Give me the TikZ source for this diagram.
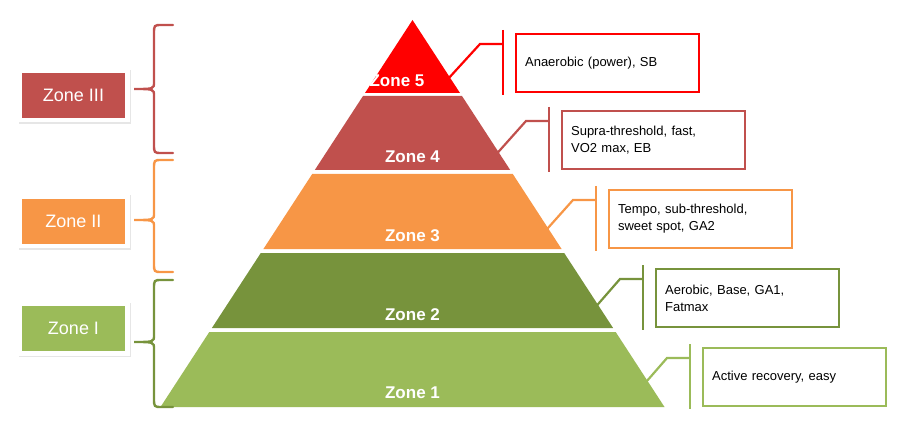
\documentclass[tikz,border=0pt]{standalone}
\usepackage{fontspec}
\setmainfont{Liberation Sans}
\usetikzlibrary{shadows}
\definecolor{zfive}{HTML}{FF0000}
\definecolor{zfour}{HTML}{C0504D}
\definecolor{zthree}{HTML}{F79646}
\definecolor{ztwo}{HTML}{77933C}
\definecolor{zone}{HTML}{9BBB59}
\tikzset{
 lay/.style={fill=#1,draw=none},
 zlab/.style={text=white,font=\fontsize{17}{19}\selectfont\bfseries,inner sep=0pt},
 call/.style={draw=#1,line width=2.2pt,fill=white,align=left,font=\fontsize{13}{17}\selectfont,text=black,minimum height=58pt,minimum width=183pt,text width=165pt,inner sep=0pt},
 cline/.style={draw=#1,line width=2.2pt},
 bigz/.style={fill=#1,text=white,minimum width=103pt,minimum height=45pt,font=\fontsize{18}{20}\selectfont,inner sep=0pt},
 frame/.style={fill=white,minimum width=112pt,minimum height=54pt,drop shadow={shadow xshift=1pt,shadow yshift=-1.5pt,opacity=0.2}},
 brc/.style={draw=#1,line width=2.4pt,line cap=round}
}
\newcommand{\mybrace}[4]{% color, top, mid, bottom
 \draw[brc=#1] (173,#2) -- (162,#2) .. controls (154,#2) .. (154,#2+9) -- (154,#3-7) .. controls (154,#3) .. (134,#3) .. controls (154,#3) .. (154,#3+7) -- (154,#4-9) .. controls (154,#4) .. (162,#4) -- (173,#4);}
\begin{document}
\begin{tikzpicture}[x=1pt,y=-1pt]
\useasboundingbox (0,0) rectangle (900,433);
% pyramid
\path[lay=zfive] (412.5,20) -- (460,93) -- (365,93) -- cycle;
\path[lay=zfour] (363,96) -- (462,96) -- (510.2,170) -- (314.8,170) -- cycle;
\path[lay=zthree] (312.2,174) -- (512.8,174) -- (561.6,249) -- (263.4,249) -- cycle;
\path[lay=ztwo] (260.8,253) -- (564.2,253) -- (613.1,328) -- (211.9,328) -- cycle;
\path[lay=zone] (209.3,332) -- (615.7,332) -- (664.5,407) -- (160.5,407) -- cycle;
\node[zlab] (l5) at (397,81) {Zone 5};
\node[zlab] (l4) at (412.5,157) {Zone 4};
\node[zlab] (l3) at (412.5,236) {Zone 3};
\node[zlab] (l2) at (412.5,315) {Zone 2};
\node[zlab] (l1) at (412.5,393) {Zone 1};
\coordinate (c5) at (437,91);
\coordinate (c4) at (484,168);
\coordinate (c3) at (531,247);
\coordinate (c2) at (579,326);
\coordinate (c1) at (626,405);
% callouts
\node[call=zfive,anchor=north west] (b5) at (515,33) {Anaerobic (power), SB};
\node[call=zfour,anchor=north west] (b4) at (561,110) {Supra-threshold, fast,\\VO2 max, EB};
\node[call=zthree,anchor=north west] (b3) at (608,189) {Tempo, sub-threshold,\\sweet spot, GA2};
\node[call=ztwo,anchor=north west] (b2) at (655,268) {Aerobic, Base, GA1,\\Fatmax};
\node[call=zone,anchor=north west] (b1) at (702,347) {Active recovery, easy};
\foreach \n/\c in {5/zfive,4/zfour,3/zthree,2/ztwo,1/zone}{
  \coordinate (t\n) at ([xshift=-12pt,yshift=-11pt]b\n.north west);
  \coordinate (k\n) at ([xshift=-23pt]t\n);
  \draw[cline=\c] (c\n) -- (k\n) -- (t\n);
  \draw[cline=\c] ([xshift=-12pt,yshift=3pt]b\n.north west) -- ([xshift=-12pt,yshift=-2pt]b\n.south west);
}
% left boxes
\node[frame] (f3) at (73.5,95.5) {};
\node[bigz=zfour] (z3) at (73.5,95.5) {Zone III};
\node[frame] (f2) at (73.5,221) {};
\node[bigz=zthree] (z2) at (73.5,221) {Zone II};
\node[frame] (f1) at (73.5,328.5) {};
\node[bigz=zone] (z1) at (73.5,328.5) {Zone I};
\mybrace{zfour}{25}{89}{153}
\mybrace{zthree}{160}{220}{272}
\mybrace{ztwo}{280}{342}{407}
\end{tikzpicture}
\end{document}
